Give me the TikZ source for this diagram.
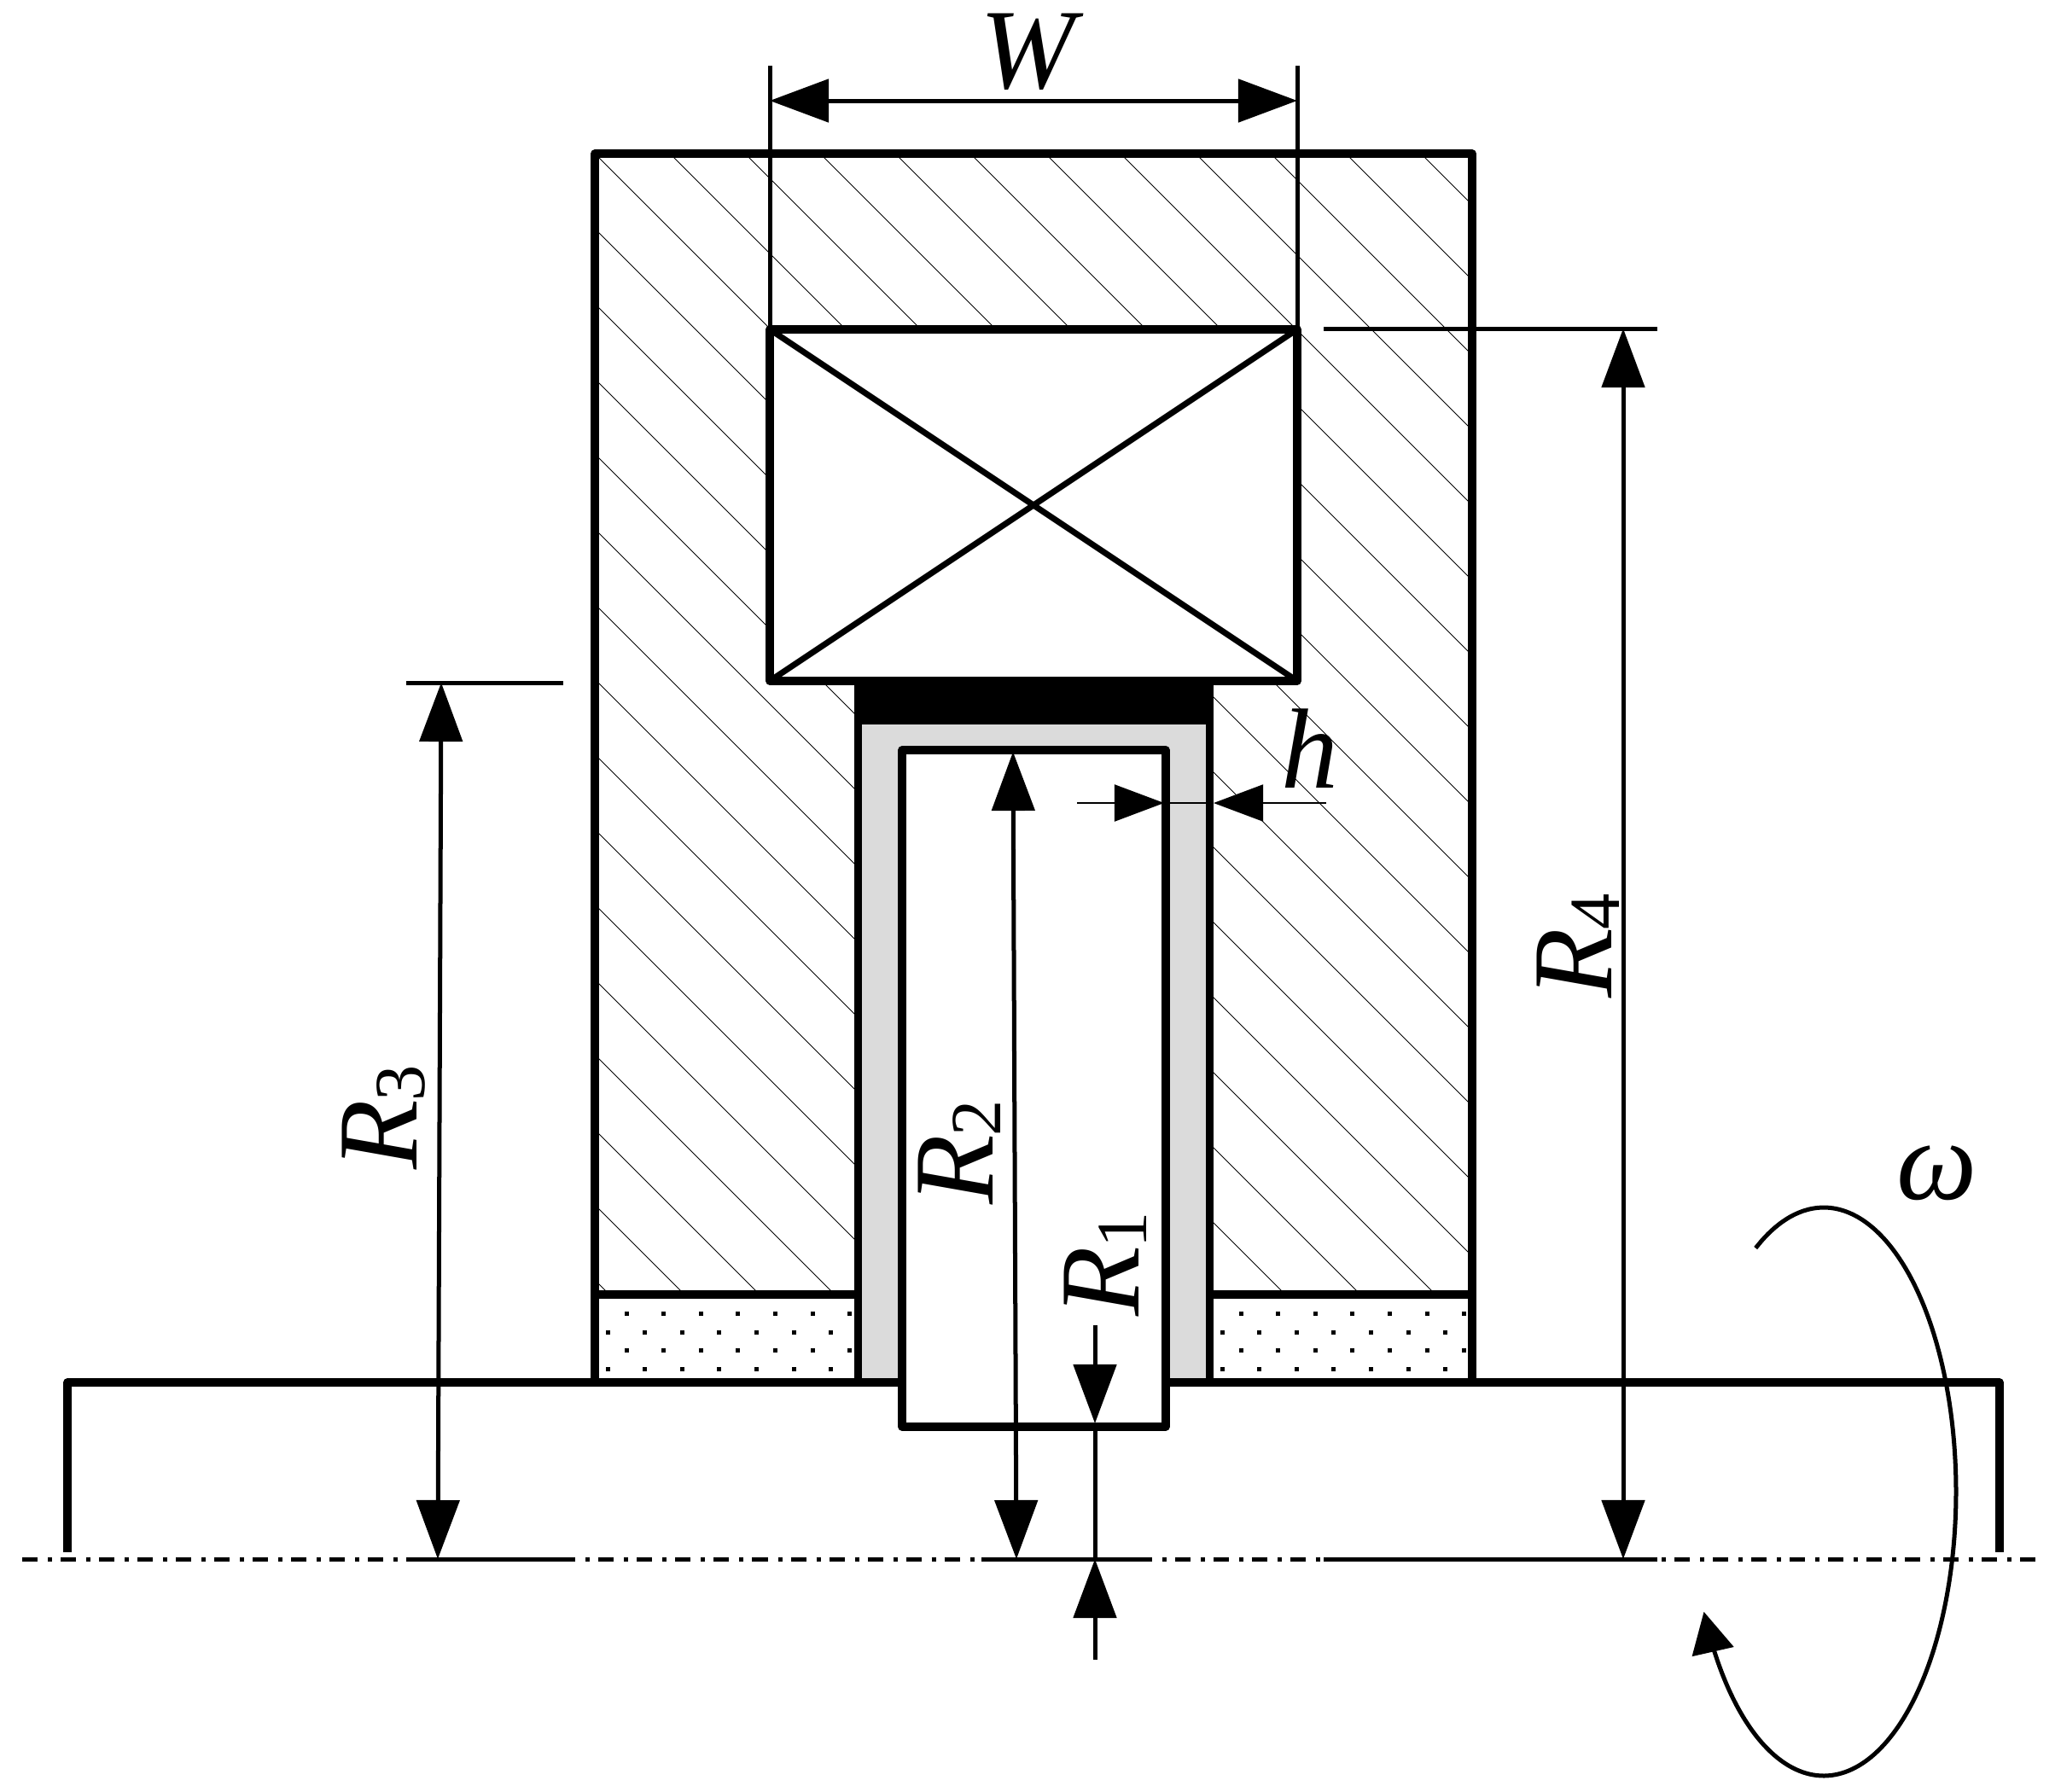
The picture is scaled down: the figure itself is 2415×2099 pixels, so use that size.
\documentclass[tikz,border=0pt]{standalone}
\usepackage{fontspec}
\setmainfont{Liberation Serif}
\usetikzlibrary{arrows.meta}
\tikzset{
	wall/.style={line width=.095cm},
	dimline/.style={line width=.05cm},
	thinline/.style={line width=.02cm},
	hatchline/.style={line width=.009cm},
	lab/.style={font=\fontsize{38}{38}\selectfont\itshape, inner sep=0pt},
	rlab/.style={lab, rotate=90, anchor=base west},
	axisline/.style={line width=.05cm, dash pattern=on .18cm off .12cm on .05cm off .10cm}
}
\newcommand{\Rsub}[1]{R\kern-.01em\raisebox{-.07em}{\fontsize{24}{24}\selectfont\upshape #1}}
\begin{document}
\begin{tikzpicture}[x=.01cm, y=-.01cm, line join=round, >={Triangle[length=.69cm,width=.5cm]}]
	\useasboundingbox (0,0) rectangle (2415,2099);
	\def\xa{697} \def\xb{1005.5} \def\xc{1417.5} \def\xd{1725} \def\yb{1620} \def\yh{1517} \def\yr{1827}
	% hatching
	\begin{scope}
		\clip (\xa,180)--(\xd,180)--(\xd,\yh)--(\xc,\yh)--(\xc,798)--(1520,798)--(1520,386)--(902,386)--(902,798)--(\xb,798)--(\xb,\yh)--(\xa,\yh)--cycle;
		\foreach \k in {-12,...,15}
		\draw[hatchline] (600,{600-517+88*\k})--(1800,{1800-517+88*\k});
	\end{scope}
	% dots
	\foreach \k in {0,...,6} {
		\foreach \yy in {1539,1582} {
			\fill ({734+43.6*\k-2.5},\yy-2.5) rectangle +(5,5);
			\fill ({1454+43.6*\k-2.5},\yy-2.5) rectangle +(5,5);
		}
		\foreach \yy in {1561,1604} {
			\fill ({712+43.6*\k-2.5},\yy-2.5) rectangle +(5,5);
			\fill ({1432+43.6*\k-2.5},\yy-2.5) rectangle +(5,5);
		}
	}
	% gap and sleeve
	\fill[black!14] (\xb,849) rectangle (\xc,\yb);
	\fill (1001,798) rectangle (1422,849);
	% yoke and shaft
	\draw[wall] (79,1819)--(79,\yb)--(2343,\yb)--(2343,1819);
	\draw[wall] (\xa,\yb)--(\xa,180)--(\xd,180)--(\xd,\yb);
	\draw[wall] (\xa,\yh)--(\xb,\yh) (\xc,\yh)--(\xd,\yh);
	\draw[wall] (\xb,798)--(\xb,\yb) (\xc,798)--(\xc,\yb);
	\draw[wall, fill=white] (1057,879) rectangle (1366,1672);
	% coil
	\draw[wall, fill=white] (902,386) rectangle (1520,798);
	\draw[line width=.07cm] (902,386)--(1520,798) (1520,386)--(902,798);
	% axis
	\draw[axisline] (26,\yr)--(2396,\yr);
	% extension lines
	\draw[dimline] (902,77)--(902,386) (1520,77)--(1520,386);
	\draw[dimline] (1551,385)--(1942,385) (1551,\yr)--(1942,\yr);
	\draw[dimline] (476,800)--(660,800) (476,\yr)--(660,\yr);
	\draw[dimline] (1150,\yr)--(1336,\yr);
	% dimensions
	\draw[dimline, <->] (902,118)--(1520,118);
	\draw[dimline, <->] (1902,385)--(1902,\yr);
	\draw[dimline, <->] (517,800)--(513,\yr);
	\draw[dimline, <->] (1187,881)--(1191,\yr);
	\draw[dimline, ->] (1283,1553)--(1283,1668);
	\draw[dimline] (1283,1668)--(1283,\yr);
	\draw[dimline, ->] (1283,1945)--(1283,\yr);
	\draw[thinline, >={Triangle[length=.58cm,width=.43cm]}, ->] (1262,941)--(1364,941);
	\draw[thinline] (1364,941)--(1422,941);
	\draw[thinline, >={Triangle[length=.58cm,width=.43cm]}, ->] (1554,941)--(1422,941);
	% rotation
	\draw[dimline, >={Triangle[length=.48cm,width=.49cm]}, ->] plot[domain=-121:155,samples=90,smooth] ({2137+155*cos(\x)},{1748+333*sin(\x)});
	% labels
	\node[lab, anchor=base] (labW) at (1204,103) {W};
	\node[lab, anchor=base] (labh) at (1535,923) {h};
	\node[lab] (labw) at (2270,1375) {ω};
	\node[rlab] (labRone) at (1334,1543) {\Rsub{1}};
	\node[rlab] (labRtwo) at (1163,1412) {\Rsub{2}};
	\node[rlab] (labRthree) at (488,1371) {\Rsub{3}};
	\node[rlab] (labRfour) at (1888,1170) {\Rsub{4}};
\end{tikzpicture}
\end{document}
